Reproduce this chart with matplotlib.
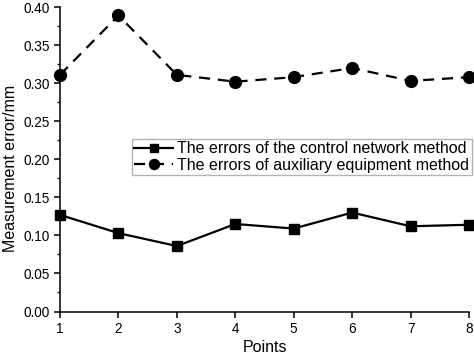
import matplotlib
matplotlib.use("Agg")
import matplotlib.pyplot as plt
from matplotlib.ticker import MultipleLocator

plt.rcParams['font.family'] = ['Liberation Sans', 'DejaVu Sans']

# data
points = [1, 2, 3, 4, 5, 6, 7, 8]
err_control = [0.127, 0.103, 0.086, 0.115, 0.109, 0.130, 0.112, 0.114]
err_auxiliary = [0.311, 0.389, 0.311, 0.302, 0.308, 0.320, 0.303, 0.308]
label_control = "The errors of the control network method"
label_auxiliary = "The errors of auxiliary equipment method"

fig = plt.figure(figsize=(4.74, 3.56), dpi=100)
ax = fig.add_axes([0.1266, 0.125, 0.8629, 0.855])

ax.plot(points, err_control, color='black', lw=1.6, marker='s', ms=7,
        label=label_control, clip_on=False, zorder=3)
ax.plot(points, err_auxiliary, color='black', lw=1.6, marker='o', ms=8.5,
        dashes=(5, 3.5), label=label_auxiliary, clip_on=False, zorder=3)

ax.set_xlim(1, 8)
ax.set_ylim(0, 0.40)
ax.xaxis.set_major_locator(MultipleLocator(1))
ax.yaxis.set_major_locator(MultipleLocator(0.05))
ax.yaxis.set_minor_locator(MultipleLocator(0.025))
ax.yaxis.set_major_formatter(matplotlib.ticker.FormatStrFormatter('%.2f'))

for s in ['top', 'right']:
    ax.spines[s].set_visible(False)
for s in ['left', 'bottom']:
    ax.spines[s].set_linewidth(1.1)

ax.tick_params(axis='both', which='major', direction='out', length=4, width=1.1,
               labelsize=9.8)
ax.tick_params(axis='y', which='major', pad=3.5)
ax.tick_params(axis='x', which='major', pad=3.5)
ax.tick_params(axis='y', which='minor', direction='out', length=2, width=1.0)

ax.set_xlabel("Points", fontsize=11.5, labelpad=3)
ax.set_ylabel("Measurement error/mm", fontsize=11.5)
ax.yaxis.set_label_coords(-0.103, 0.47)

leg = ax.legend(loc='upper right', bbox_to_anchor=(1.007, 0.567),
                borderaxespad=0, fontsize=11.5, frameon=True, fancybox=False,
                handlelength=2.4, handletextpad=0.3, borderpad=0.15,
                labelspacing=0.1, markerscale=0.85)
leg.get_frame().set_edgecolor('#a0a0a0')
leg.get_frame().set_linewidth(1.0)

fig.savefig("out.png", dpi=100)
